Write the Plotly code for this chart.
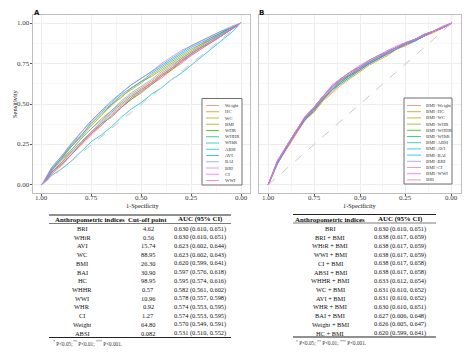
import plotly.graph_objects as go

# page is shown with the browser's default 8px body margin
OFF = 8
W, H = 474 - OFF, 355 - OFF

# ---------------- data ----------------
spec = [1.00, 0.95, 0.90, 0.85, 0.80, 0.75, 0.70, 0.65, 0.60, 0.55, 0.50,
        0.45, 0.40, 0.35, 0.30, 0.25, 0.20, 0.15, 0.10, 0.05, 0.00]

names_a = ["Weight", "HC", "WC", "BMI", "WHR", "WHHR", "WHtR", "ABSI", "AVI", "BAI", "BRI", "CI", "WWI"]
sens_weight = [0, .07, .13, .19, .25, .31, .37, .43, .48, .53, .58, .62, .66, .71, .75, .80, .84, .88, .92, .96, 1]
sens_hc     = [0, .09, .15, .22, .29, .35, .41, .46, .51, .56, .60, .64, .69, .73, .78, .82, .86, .90, .93, .97, 1]
sens_wc     = [0, .10, .16, .24, .31, .38, .44, .49, .55, .59, .63, .68, .72, .76, .80, .84, .87, .91, .94, .97, 1]
sens_bmi    = [0, .09, .17, .24, .30, .37, .43, .50, .54, .60, .64, .67, .71, .75, .79, .83, .87, .90, .94, .97, 1]
sens_whr    = [0, .08, .13, .19, .26, .32, .38, .42, .48, .53, .57, .62, .67, .71, .76, .81, .85, .88, .92, .96, 1]
sens_whhr   = [0, .08, .14, .21, .27, .33, .39, .45, .50, .55, .59, .63, .68, .72, .77, .81, .85, .89, .93, .96, 1]
sens_whtr   = [0, .11, .18, .26, .33, .40, .46, .52, .57, .62, .66, .70, .74, .78, .82, .86, .89, .92, .95, .97, 1]
sens_absi   = [0, .06, .10, .15, .21, .27, .31, .36, .42, .47, .51, .56, .60, .65, .69, .74, .79, .84, .89, .94, 1]
sens_avi    = [0, .10, .17, .25, .31, .39, .45, .50, .56, .60, .64, .69, .73, .77, .81, .85, .88, .91, .94, .97, 1]
sens_bai    = [0, .09, .16, .22, .29, .35, .40, .46, .52, .57, .61, .65, .70, .74, .78, .82, .86, .90, .93, .97, 1]
sens_bri    = [0, .11, .18, .25, .33, .40, .46, .51, .57, .62, .66, .70, .75, .79, .83, .86, .89, .92, .95, .98, 1]
sens_ci     = [0, .07, .12, .19, .26, .32, .37, .43, .48, .54, .58, .63, .67, .72, .76, .80, .84, .88, .92, .96, 1]
sens_wwi    = [0, .08, .14, .20, .26, .33, .38, .44, .49, .54, .59, .63, .68, .72, .77, .81, .85, .89, .92, .96, 1]
curves_a = [sens_weight, sens_hc, sens_wc, sens_bmi, sens_whr, sens_whhr, sens_whtr,
            sens_absi, sens_avi, sens_bai, sens_bri, sens_ci, sens_wwi]

names_b = ["BMI+Weight", "BMI+HC", "BMI+WC", "BMI+WHR", "BMI+WHHR", "BMI+WHtR", "BMI+ABSI",
           "BMI+AVI", "BMI+BAI", "BMI+BRI", "BMI+CI", "BMI+WWI", "BRI"]
b_weight = [0, .14, .23, .32, .40, .46, .53, .58, .63, .67, .71, .75, .78, .81, .84, .87, .89, .92, .95, .97, 1]
b_hc     = [0, .13, .22, .31, .40, .45, .52, .57, .62, .66, .70, .74, .77, .80, .84, .86, .89, .92, .94, .97, 1]
b_wc     = [0, .14, .23, .32, .41, .47, .53, .59, .64, .68, .71, .75, .78, .82, .85, .87, .90, .92, .95, .97, 1]
b_whr    = [0, .14, .23, .32, .41, .46, .53, .59, .64, .68, .72, .75, .78, .81, .84, .87, .90, .92, .95, .97, 1]
b_whhr   = [0, .14, .23, .33, .41, .47, .54, .60, .65, .68, .72, .76, .79, .82, .85, .87, .90, .93, .95, .97, 1]
b_whtr   = [0, .14, .24, .33, .42, .48, .55, .61, .65, .69, .73, .77, .80, .82, .85, .88, .90, .93, .95, .98, 1]
b_absi   = [0, .15, .24, .33, .41, .48, .55, .61, .66, .70, .73, .76, .79, .82, .85, .87, .90, .92, .95, .97, 1]
b_avi    = [0, .13, .23, .32, .41, .47, .54, .59, .64, .68, .72, .75, .78, .82, .85, .87, .89, .92, .95, .97, 1]
b_bai    = [0, .13, .23, .32, .40, .46, .53, .59, .63, .67, .71, .75, .78, .81, .84, .87, .89, .92, .95, .97, 1]
b_bri    = [0, .14, .24, .33, .42, .48, .55, .61, .66, .70, .73, .77, .80, .83, .85, .88, .90, .93, .95, .97, 1]
b_ci     = [0, .15, .24, .33, .42, .48, .55, .61, .66, .70, .74, .77, .80, .83, .86, .88, .90, .93, .95, .97, 1]
b_wwi    = [0, .14, .24, .33, .42, .48, .55, .62, .66, .70, .73, .76, .79, .82, .85, .88, .90, .93, .95, .98, 1]
b_bri0   = [0, .14, .23, .32, .41, .47, .54, .60, .65, .69, .72, .76, .79, .82, .85, .87, .90, .92, .95, .97, 1]
curves_b = [b_weight, b_hc, b_wc, b_whr, b_whhr, b_whtr, b_absi, b_avi, b_bai, b_bri, b_ci, b_wwi, b_bri0]

diag_x = [1, 0]
diag_y = [0, 1]

tick_vals = [1.0, 0.75, 0.5, 0.25, 0.0]
tick_text = ["1.00", "0.75", "0.50", "0.25", "0.00"]
ytick_vals = [0.0, 0.25, 0.5, 0.75, 1.0]
ytick_text = ["0.00", "0.25", "0.50", "0.75", "1.00"]

palette = ["#F8766D", "#E18A00", "#BE9C00", "#8CAB00", "#24B700", "#00BE70", "#00C1AB",
           "#00BBDA", "#00ACFC", "#8B93FF", "#D575FE", "#F962DD", "#FF65AC"]

tab_a_head = ["Anthropometric indices", "Cut-off point", "AUC (95% CI)"]
tab_a_idx = ["BRI", "WHtR", "AVI", "WC", "BMI", "BAI", "HC", "WHHR", "WWI", "WHR", "CI", "Weight", "ABSI"]
tab_a_cut = ["4.62", "0.56", "15.74", "88.95", "26.30", "30.90", "98.95", "0.57", "10.96", "0.92", "1.27", "64.80", "0.082"]
tab_a_auc = ["0.630 (0.610, 0.651)", "0.630 (0.610, 0.651)", "0.623 (0.602, 0.644)", "0.623 (0.602, 0.643)",
             "0.620 (0.599, 0.641)", "0.597 (0.576, 0.618)", "0.595 (0.574, 0.616)", "0.582 (0.561, 0.602)",
             "0.578 (0.557, 0.598)", "0.574 (0.553, 0.595)", "0.574 (0.553, 0.595)", "0.570 (0.549, 0.591)",
             "0.531 (0.510, 0.552)"]
tab_b_head = ["Anthropometric indices", "AUC (95% CI)"]
tab_b_idx = ["BRI", "BRI + BMI", "WHtR + BMI", "WWI + BMI", "CI + BMI", "ABSI + BMI", "WHHR + BMI",
             "WC + BMI", "AVI + BMI", "WHR + BMI", "BAI + BMI", "Weight + BMI", "HC + BMI"]
tab_b_auc = ["0.630 (0.610, 0.651)", "0.638 (0.617, 0.659)", "0.638 (0.617, 0.659)", "0.638 (0.617, 0.659)",
             "0.638 (0.617, 0.658)", "0.638 (0.617, 0.658)", "0.633 (0.612, 0.654)", "0.631 (0.610, 0.652)",
             "0.631 (0.610, 0.652)", "0.630 (0.610, 0.651)", "0.627 (0.606, 0.648)", "0.626 (0.605, 0.647)",
             "0.620 (0.599, 0.641)"]
foot_marks = ["*", "**", "***"]
foot_texts = [" P<0.05;", " P<0.01;", " P<0.001."]

# ---------------- helpers ----------------
SERIF = "Liberation Serif"


def px(x):
    return (x - OFF) / W


def py(y):
    return 1 - (y - OFF) / H


def rgba(hexc, a):
    h = hexc.lstrip("#")
    return "rgba(%d,%d,%d,%.2f)" % (int(h[0:2], 16), int(h[2:4], 16), int(h[4:6], 16), a)


# approximate Times/Liberation Serif advance widths (em)
CW = {" ": .25, "P": .556, "<": .564, ".": .25, ";": .278, "*": .5}


def twidth(s, size):
    return sum(CW.get(ch, .5) for ch in s) * size


fig = go.Figure()

for nm, s, c in zip(names_a, curves_a, palette):
    fig.add_trace(go.Scatter(x=spec, y=s, mode="lines", name=nm, xaxis="x", yaxis="y",
                             line=dict(color=rgba(c, 0.75), width=1), showlegend=False))
fig.add_trace(go.Scatter(x=diag_x, y=diag_y, mode="lines", xaxis="x", yaxis="y", showlegend=False,
                         line=dict(color="#C8C8C8", width=1, dash="dash")))

for nm, s, c in zip(names_b, curves_b, palette):
    fig.add_trace(go.Scatter(x=spec, y=s, mode="lines", name=nm, xaxis="x2", yaxis="y2",
                             line=dict(color=rgba(c, 0.75), width=1), showlegend=False))
fig.add_trace(go.Scatter(x=diag_x, y=diag_y, mode="lines", xaxis="x2", yaxis="y2", showlegend=False,
                         line=dict(color="#C8C8C8", width=1, dash="dash")))

axis_common = dict(showline=True, mirror=True, linecolor="#BEBEBE", linewidth=1,
                   gridcolor="#EDEDED", gridwidth=0.6, zeroline=False, showticklabels=False,
                   ticks="outside", ticklen=2, tickcolor="#555555", tickwidth=0.6,
                   minor=dict(showgrid=True, gridcolor="#F6F6F6", gridwidth=0.5, dtick=0.125, tick0=0))

ydom = [py(193), py(15)]
fig.update_layout(
    width=W, height=H, margin=dict(l=0, r=0, t=0, b=0),
    paper_bgcolor="white", plot_bgcolor="white", showlegend=False,
    xaxis=dict(domain=[px(33), px(250)], range=[1.045, -0.045], tickvals=tick_vals,
               anchor="y", **axis_common),
    yaxis=dict(domain=ydom, range=[-0.05, 1.05], tickvals=ytick_vals, anchor="x", **axis_common),
    xaxis2=dict(domain=[px(259), px(461)], range=[1.05, -0.05], tickvals=tick_vals,
                anchor="y2", **axis_common),
    yaxis2=dict(domain=ydom, range=[-0.05, 1.05], tickvals=ytick_vals, anchor="x2",
                **{k: (v if k != "ticks" else "") for k, v in axis_common.items()}),
)

shapes = []
ann = []


def text(x, y, t, size=6.4, xanchor="center", bold=False, color="#111111", family=SERIF, angle=0):
    ann.append(dict(x=px(x), y=py(y), xref="paper", yref="paper", text=("<b>%s</b>" % t) if bold else t,
                    showarrow=False, xanchor=xanchor, yanchor="middle", textangle=angle,
                    font=dict(family=family, size=size, color=color)))


def hline(x0, x1, y, w=0.8, color="#222222"):
    shapes.append(dict(type="line", xref="paper", yref="paper", x0=px(x0), x1=px(x1), y0=py(y), y1=py(y),
                       line=dict(color=color, width=w)))


# tick labels, placed through the axes' own data coordinates
for xr in ("x", "x2"):
    for v, t in zip(tick_vals, tick_text):
        ann.append(dict(x=v, y=py(198), xref=xr, yref="paper", text=t, showarrow=False,
                        xanchor="center", yanchor="middle",
                        font=dict(family=SERIF, size=7, color="#3A3A3A")))
for v, t in zip(ytick_vals, ytick_text):
    ann.append(dict(x=px(32), y=v, xref="paper", yref="y", text=t, showarrow=False,
                    xanchor="right", yanchor="middle",
                    font=dict(family=SERIF, size=7, color="#3A3A3A")))

# panel labels and axis titles
text(37, 12.5, "A", size=7, bold=True, family="DejaVu Sans")
text(261, 12.5, "B", size=7, bold=True, family="DejaVu Sans")
text(142, 205.5, "1-Specificity", size=6.3)
text(359, 205.5, "1-Specificity", size=6.3)
text(15, 104, "Sensitivity", size=6.5, angle=-90)


def legend(x0, x1, y0, y1, lx0, lx1, tx, ty0, dy, names):
    shapes.append(dict(type="rect", xref="paper", yref="paper", x0=px(x0), x1=px(x1), y0=py(y1), y1=py(y0),
                       line=dict(color="#6E6E6E", width=1), fillcolor="white"))
    for i, (nm, c) in enumerate(zip(names, palette)):
        yy = ty0 + i * dy
        shapes.append(dict(type="line", xref="paper", yref="paper", x0=px(lx0), x1=px(lx1), y0=py(yy), y1=py(yy),
                           line=dict(color=rgba(c, 0.75), width=1)))
        text(tx, yy, nm, size=4.7, xanchor="left", color="#333333")


legend(202, 242, 98.5, 185, 206, 219, 223, 105.5, 6.25, names_a)
legend(404, 452, 98, 184, 407, 421, 424, 105.5, 6.2, names_b)


def footnote_at(x, y):
    fs, ms = 5.2, 4.0
    for m, t in zip(foot_marks, foot_texts):
        ann.append(dict(x=px(x), y=py(y - 1.6), xref="paper", yref="paper", text=m, showarrow=False,
                        xanchor="left", yanchor="middle", font=dict(family=SERIF, size=ms, color="#333333")))
        x += twidth(m, ms)
        ann.append(dict(x=px(x), y=py(y), xref="paper", yref="paper", text=t.replace("<", "&lt;"),
                        showarrow=False, xanchor="left", yanchor="middle",
                        font=dict(family=SERIF, size=fs, color="#333333")))
        x += twidth(t, fs) + 0.25 * fs


# table A
hline(49, 231, 215, w=1.2)
hline(49, 231, 223.5, w=0.6)
hline(49, 231, 337.5, w=1.2)
text(89.5, 219.3, tab_a_head[0], bold=True, size=6.9)
text(147, 219.3, tab_a_head[1], bold=True, size=6.9)
text(200, 219.3, tab_a_head[2], bold=True, size=6.9)
for i in range(len(tab_a_idx)):
    yy = 228.5 + i * 8.72
    text(82, yy, tab_a_idx[i])
    text(148, yy, tab_a_cut[i])
    text(200, yy, tab_a_auc[i])
footnote_at(50.5, 343.5)

# table B
hline(293, 436, 214.5, w=1.2)
hline(293, 436, 223, w=0.6)
hline(293, 436, 337, w=1.2)
text(330, 219, tab_b_head[0], bold=True, size=6.9)
text(399.5, 219, tab_b_head[1], bold=True, size=6.9)
for i in range(len(tab_b_idx)):
    yy = 228.5 + i * 8.72
    text(330, yy, tab_b_idx[i])
    text(399.5, yy, tab_b_auc[i])
footnote_at(294, 343)

fig.update_layout(shapes=shapes, annotations=ann)
fig.write_html("out.html")
